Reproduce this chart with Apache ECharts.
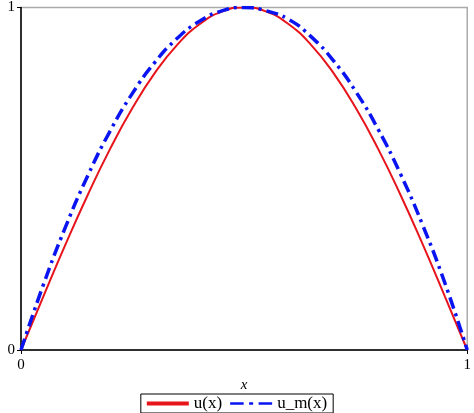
<!DOCTYPE html>
<html><head><meta charset="utf-8">
<script src="https://cdn.jsdelivr.net/npm/echarts@6/dist/echarts.min.js"></script>
<style>html,body{margin:0;padding:0;background:#fff}#c{width:474px;height:413px}</style>
</head><body><div id="c"></div>
<script>
var xs = [0, 0.05, 0.1, 0.15, 0.2, 0.25, 0.3, 0.35, 0.4, 0.45, 0.5, 0.55, 0.6, 0.65, 0.7, 0.75, 0.8, 0.85, 0.9, 0.95, 1];
var uVals = [0, 0.156, 0.309, 0.454, 0.588, 0.707, 0.809, 0.891, 0.951, 0.988, 1, 0.988, 0.951, 0.891, 0.809, 0.707, 0.588, 0.454, 0.309, 0.156, 0];
var umVals = [0, 0.19, 0.36, 0.51, 0.64, 0.75, 0.84, 0.91, 0.96, 0.99, 1, 0.99, 0.965, 0.915, 0.845, 0.755, 0.645, 0.515, 0.365, 0.195, 0];

function pairs(v) { return xs.map(function (x, i) { return [x, v[i]]; }); }

var font = 'Liberation Serif';
var chart = echarts.init(document.getElementById('c'));
chart.setOption({
  animation: false,
  textStyle: { fontFamily: font },
  grid: { left: 21, right: 2, top: 7, bottom: 63, show: true, borderColor: '#aaa', borderWidth: 1.5 },
  xAxis: {
    type: 'value', min: 0, max: 1, interval: 1,
    name: 'x', nameLocation: 'middle', nameGap: 26,
    nameTextStyle: { fontStyle: 'italic', fontSize: 15, color: '#000', fontFamily: font },
    axisLine: { lineStyle: { color: '#000', width: 1.5 } },
    axisTick: { show: true, length: 4, lineStyle: { color: '#000' } },
    axisLabel: { color: '#000', fontSize: 15, fontFamily: font },
    splitLine: { show: false }
  },
  yAxis: {
    type: 'value', min: 0, max: 1, interval: 1,
    axisLine: { show: true, lineStyle: { color: '#000', width: 1.5 } },
    axisTick: { show: true, length: 4, lineStyle: { color: '#000' } },
    axisLabel: { color: '#000', fontSize: 15, fontFamily: font, margin: 6 },
    splitLine: { show: false }
  },
  legend: {
    bottom: 0, left: 'center', itemWidth: 42, itemHeight: 4, itemGap: 8,
    borderColor: '#000', borderWidth: 1, padding: [1, 6], borderRadius: 0,
    textStyle: { fontSize: 17, color: '#000', fontFamily: font },
    data: [
      { name: 'u(x)', icon: 'rect' },
      { name: 'u_m(x)', icon: 'path://M0,0h10v2h-10z M14,0h3v2h-3z M21,0h10v2h-10z' }
    ]
  },
  series: [
    { name: 'u(x)', type: 'line', smooth: true, symbol: 'none', data: pairs(uVals),
      itemStyle: { color: '#e8141c' }, lineStyle: { color: '#e8141c', width: 2 } },
    { name: 'u_m(x)', type: 'line', smooth: true, symbol: 'none', data: pairs(umVals),
      itemStyle: { color: '#0a14f0' }, lineStyle: { color: '#0a14f0', width: 3.5, type: [12, 5, 3, 5] } }
  ]
});
</script></body></html>
